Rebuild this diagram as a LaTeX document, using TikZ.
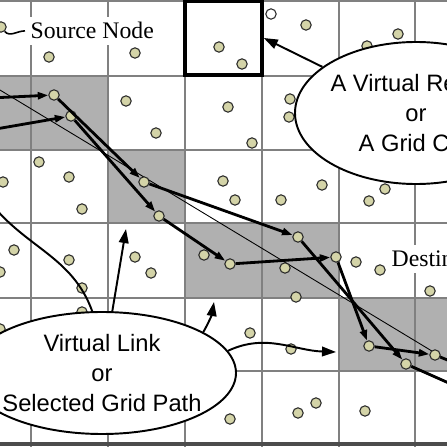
\documentclass[tikz,border=0pt]{standalone}
\usepackage{fontspec}
\setmainfont{Liberation Serif}
\newfontfamily\bubblefont{Liberation Sans}
\usetikzlibrary{shapes.geometric, arrows.meta}

\definecolor{dotfill}{RGB}{212,212,168}
\definecolor{gridgray}{RGB}{128,128,128}
\definecolor{cellgray}{RGB}{176,176,176}

\tikzset{
    sensor/.style={circle, draw=black!85, fill=dotfill, line width=0.6pt, minimum size=5.9pt, inner sep=0pt},
    hop/.style={-{Triangle[length=6pt,width=4pt]}, line width=1.6pt},
    callout/.style={-{Triangle[length=8pt,width=5.5pt]}, line width=1.1pt},
    bubble/.style={ellipse, draw, line width=1.1pt, fill=white, inner sep=0pt},
    bubbletext/.style={align=center, font=\bubblefont\fontsize{13.5}{16.8}\selectfont},
    tag/.style={fill=white, inner xsep=3pt, inner ysep=3pt, font=\fontsize{13.5}{16}\selectfont},
    gridline/.style={draw=gridgray, line width=1.2pt}
}

\begin{document}
\begin{tikzpicture}[x=2cm, y=2cm]
        \useasboundingbox (0, 0) rectangle (4.47, 4.47);
        \clip (0, 0) rectangle (4.47, 4.47);

        % selected cells
        \fill[cellgray] (-0.1, 2.97) rectangle (1.08, 3.71);
        \fill[cellgray] (1.08, 2.24) rectangle (1.85, 2.97);
        \fill[cellgray] (1.85, 1.49) rectangle (3.39, 2.24);
        \fill[cellgray] (3.39, 0.76) rectangle (4.6, 1.49);

        % grid
        \draw[gridline](0.31, 0) to (0.31, 4.47);
        \draw[gridline](1.08, 0) to (1.08, 4.47);
        \draw[gridline](1.85, 0) to (1.85, 4.47);
        \draw[gridline](2.62, 0) to (2.62, 4.47);
        \draw[gridline](3.39, 0) to (3.39, 4.47);
        \draw[gridline](4.15, 0) to (4.15, 4.47);

        \draw[gridline](0, 4.46) to (4.47, 4.46);
        \draw[gridline](0, 3.71) to (4.47, 3.71);
        \draw[gridline](0, 2.97) to (4.47, 2.97);
        \draw[gridline](0, 2.24) to (4.47, 2.24);
        \draw[gridline](0, 1.49) to (4.47, 1.49);
        \draw[gridline](0, 0.76) to (4.47, 0.76);
        \draw[gridline, draw=black!70, line width=1.8pt](0, 0.03) to (4.47, 0.03);

        \node[draw, line width=2pt, minimum width=1.54cm, minimum height=1.48cm, inner sep=0pt] (vcell) at(2.235, 4.09){};

        % straight source-destination line
        \coordinate (srcdir) at (-0.1, 3.63);
        \coordinate (dstdir) at (4.6, 0.79);
        \draw[line width=0.5pt] (srcdir) -- (dstdir);

        % nodes
        \node[sensor] (src) at(0.01, 4.20){};
        \node[sensor] (n1) at(0.49, 3.90){};
        \node[sensor] (n2) at(1.35, 3.94){};
        \node[sensor] (n3) at(2.19, 4.00){};
        \node[sensor] (n4) at(2.42, 3.83){};
        \node[sensor, fill=white] (n5) at(2.71, 4.33){};
        \node[sensor] (n6) at(3.06, 4.22){};
        \node[sensor] (n7) at(3.67, 4.01){};
        \node[sensor] (n8) at(3.98, 4.13){};

        \node[sensor] (a1) at(0.54, 3.52){};
        \node[sensor] (a2) at(0.71, 3.31){};
        \node[sensor] (n9) at(1.26, 3.46){};
        \node[sensor] (n10) at(1.56, 3.14){};
        \node[sensor] (n11) at(2.28, 3.40){};
        \node[sensor] (n12) at(2.52, 3.04){};
        \node[sensor] (n13) at(2.90, 3.48){};
        \node[sensor] (n14) at(2.89, 3.30){};

        \node[sensor] (n15) at(0.03, 2.65){};
        \node[sensor] (n16) at(0.39, 2.85){};
        \node[sensor] (n17) at(0.69, 2.70){};
        \node[sensor] (n18) at(0.82, 2.38){};
        \node[sensor] (b1) at(1.44, 2.65){};
        \node[sensor] (b2) at(1.59, 2.31){};
        \node[sensor] (n19) at(2.23, 2.66){};
        \node[sensor] (n20) at(2.35, 2.47){};
        \node[sensor] (n21) at(2.81, 2.47){};
        \node[sensor] (n22) at(3.22, 2.62){};
        \node[sensor] (n23) at(3.69, 2.46){};
        \node[sensor] (n24) at(3.85, 2.58){};

        \node[sensor] (n25) at(0.14, 1.97){};
        \node[sensor] (n26) at(0.00, 1.75){};
        \node[sensor] (n27) at(0.69, 1.87){};
        \node[sensor] (n28) at(0.82, 1.59){};
        \node[sensor] (n29) at(1.35, 1.90){};
        \node[sensor] (n30) at(1.51, 1.74){};
        \node[sensor] (n31) at(2.04, 1.92){};
        \node[sensor] (c1) at(2.98, 2.10){};
        \node[sensor] (c2) at(2.30, 1.83){};
        \node[sensor] (n32) at(2.85, 1.79){};
        \node[sensor] (c3) at(3.36, 1.90){};
        \node[sensor] (n33) at(3.56, 1.85){};
        \node[sensor] (n34) at(3.80, 1.77){};
        \node[sensor] (n35) at(4.30, 1.56){};
        \node[sensor] (n36) at(2.96, 1.50){};

        \node[sensor] (n37) at(0.00, 1.18){};
        \node[sensor] (n38) at(0.82, 1.35){};
        \node[sensor] (n39) at(2.50, 1.14){};
        \node[sensor] (n40) at(2.91, 0.98){};
        \node[sensor] (d1) at(3.69, 1.01){};
        \node[sensor] (d2) at(4.06, 0.83){};
        \node[sensor] (d3) at(4.35, 0.92){};

        \node[sensor] (n41) at(2.30, 0.28){};
        \node[sensor] (n42) at(2.98, 0.34){};
        \node[sensor] (n43) at(3.16, 0.44){};
        \node[sensor] (n44) at(3.65, 0.36){};

        % grid path
        \coordinate (in1) at (-0.1, 3.49);
        \coordinate (in2) at (-0.1, 3.17);
        \coordinate (out1) at (4.6, 0.59);
        \coordinate (out2) at (4.6, 0.82);
        \draw[hop] (in1) -- (a1);
        \draw[hop] (in2) -- (a2);
        \draw[hop] (a1) -- (b1);
        \draw[hop] (a2) -- (b2);
        \draw[hop] (b1) -- (c1);
        \draw[hop] (b2) -- (c2);
        \draw[hop] (c2) -- (c3);
        \draw[hop] (c3) -- (d1);
        \draw[hop] (c1) -- (d2);
        \draw[hop] (d1) -- (d3);
        \draw[hop] (d2) -- (out1);
        \draw[hop] (d3) -- (out2);

        % callouts
        \node[bubble, minimum width=4.84cm, minimum height=2.84cm] (vr) at(4.16, 3.34){};
        \node[bubbletext] (vrtext) at(vr){A Virtual Region\\or\\A Grid Cell};
        \node[bubble, minimum width=5.36cm, minimum height=2.44cm] (vl) at(1.02, 0.74){};
        \node[bubbletext] (vltext) at(vl){Virtual Link\\or\\Selected Grid Path};

        \node[tag, anchor=base west] (srclbl) at(0.25, 4.08){Source Node};
        \node[tag, anchor=base west] (dstlbl) at(3.86, 1.80){Destination Node};

        \coordinate (t1) at (-0.1, 2.45);
        \coordinate (t2) at (1.26, 2.18);
        \coordinate (t3) at (2.14, 1.45);
        \coordinate (t4) at (3.36, 0.95);

        \draw[line width=0.9pt] (src) to[out=-50, in=180] (srclbl.west);
        \draw[callout] (vr) -- (vcell.east);
        \draw[line width=1.1pt] (vl.99) to[out=110, in=-52] (t1);
        \draw[callout] (vl) -- (t2);
        \draw[callout] (vl.22) to[bend right=10] (t3);
        \draw[callout] (vl.10) to[out=25, in=178] (t4);
\end{tikzpicture}
\end{document}
